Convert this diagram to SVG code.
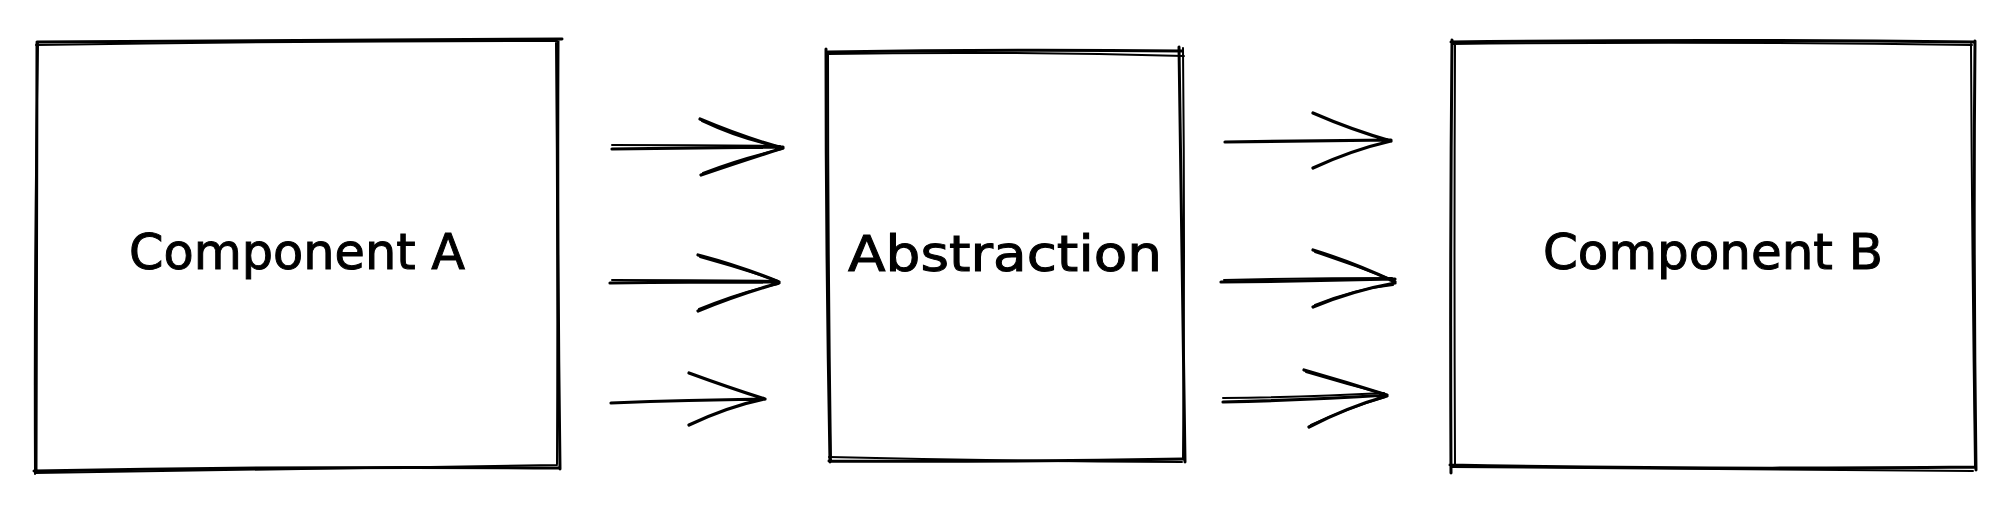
<svg xmlns="http://www.w3.org/2000/svg" width="2000" height="527" viewBox="0 0 2000 527">
  <style>
    .box { fill: none; stroke: #000000; stroke-width: 3; stroke-linecap: round; stroke-linejoin: round; }
    .box2 { fill: none; stroke: #000000; stroke-width: 2; stroke-linecap: round; stroke-linejoin: round; }
    .arr { fill: none; stroke: #000000; stroke-width: 3.2; stroke-linecap: round; stroke-linejoin: round; }
    .arr2 { fill: none; stroke: #000000; stroke-width: 2; stroke-linecap: round; }
    .lbl { font-family: "DejaVu Sans", "Liberation Sans", sans-serif; font-size: 50px; fill: #000000; stroke: #000000; stroke-width: 1; text-anchor: middle; }
  </style>
  <rect width="2000" height="527" fill="#ffffff"/>

  <g id="componentA">
    <path class="box" d="M37 42 Q300 40 562 39 M558 40 Q557 250 560 469 M560 468 Q300 466 34 471 M36 470 Q37 250 37 43"/>
    <path class="box2" d="M36 45 Q300 41 557 41 M556 43 Q558 250 557 464 M557 465 Q300 468 35 473 M35 474 Q34 250 38 44"/>
    <text class="lbl" x="297" y="269" textLength="336" lengthAdjust="spacingAndGlyphs">Component A</text>
  </g>

  <g id="abstraction">
    <path class="box" d="M828 52 Q1000 49 1182 51 M1179 47 Q1182 250 1185 462 M1183 459 Q1000 462 829 461 M830 462 Q826 250 826 49"/>
    <path class="box2" d="M828 54 Q1000 51 1184 56 M1183 48 Q1185 250 1183 459 M1182 462 Q1000 461 829 457 M831 460 Q828 250 828 52"/>
    <text class="lbl" x="1005" y="271" textLength="314" lengthAdjust="spacingAndGlyphs">Abstraction</text>
  </g>

  <g id="componentB">
    <path class="box" d="M1451 42 Q1700 39 1975 42 M1975 41 Q1973 250 1976 470 M1975 467 Q1700 470 1450 465 M1451 473 Q1450 250 1452 40"/>
    <path class="box2" d="M1452 44 Q1700 41 1972 45 M1971 44 Q1972 250 1975 466 M1973 471 Q1700 468 1452 467 M1455 465 Q1454 250 1455 44"/>
    <text class="lbl" x="1713" y="269" textLength="340" lengthAdjust="spacingAndGlyphs">Component B</text>
  </g>

  <g id="connectors">
    <!-- A to Abstraction -->
    <path class="arr" d="M612 149 Q700 148 783 147 M700 119 Q745 138 783 148 M701 175 Q745 160 783 148"/>
    <path class="arr2" d="M612 145 Q700 145 780 146 M702 121 Q742 140 781 147 M703 173 Q742 158 782 149"/>

    <path class="arr" d="M610 283 Q700 282 779 282 M698 255 Q740 266 779 282 M698 311 Q740 294 779 283"/>
    <path class="arr2" d="M612 280 Q700 280 777 281 M700 257 Q740 268 778 281 M699 309 Q740 292 778 284"/>

    <path class="arr" d="M611 403 Q690 400 765 399 M689 373 Q730 388 765 399 M689 425 Q730 406 765 399"/>

    <!-- Abstraction to B -->
    <path class="arr" d="M1225 142 Q1310 141 1391 140 M1313 113 Q1352 130 1391 141 M1313 168 Q1352 150 1391 141"/>

    <path class="arr" d="M1221 282 Q1310 281 1395 279 M1313 250 Q1355 263 1395 282 M1313 307 Q1355 290 1395 283"/>
    <path class="arr2" d="M1224 280 Q1310 278 1392 278 M1315 252 Q1354 265 1393 280 M1315 305 Q1354 289 1393 285"/>

    <path class="arr" d="M1223 402 Q1310 400 1387 395 M1304 370 Q1346 382 1387 395 M1309 427 Q1348 407 1387 396"/>
    <path class="arr2" d="M1223 398 Q1310 397 1384 393 M1306 372 Q1346 384 1385 394 M1311 425 Q1348 408 1385 397"/>
  </g>
</svg>
